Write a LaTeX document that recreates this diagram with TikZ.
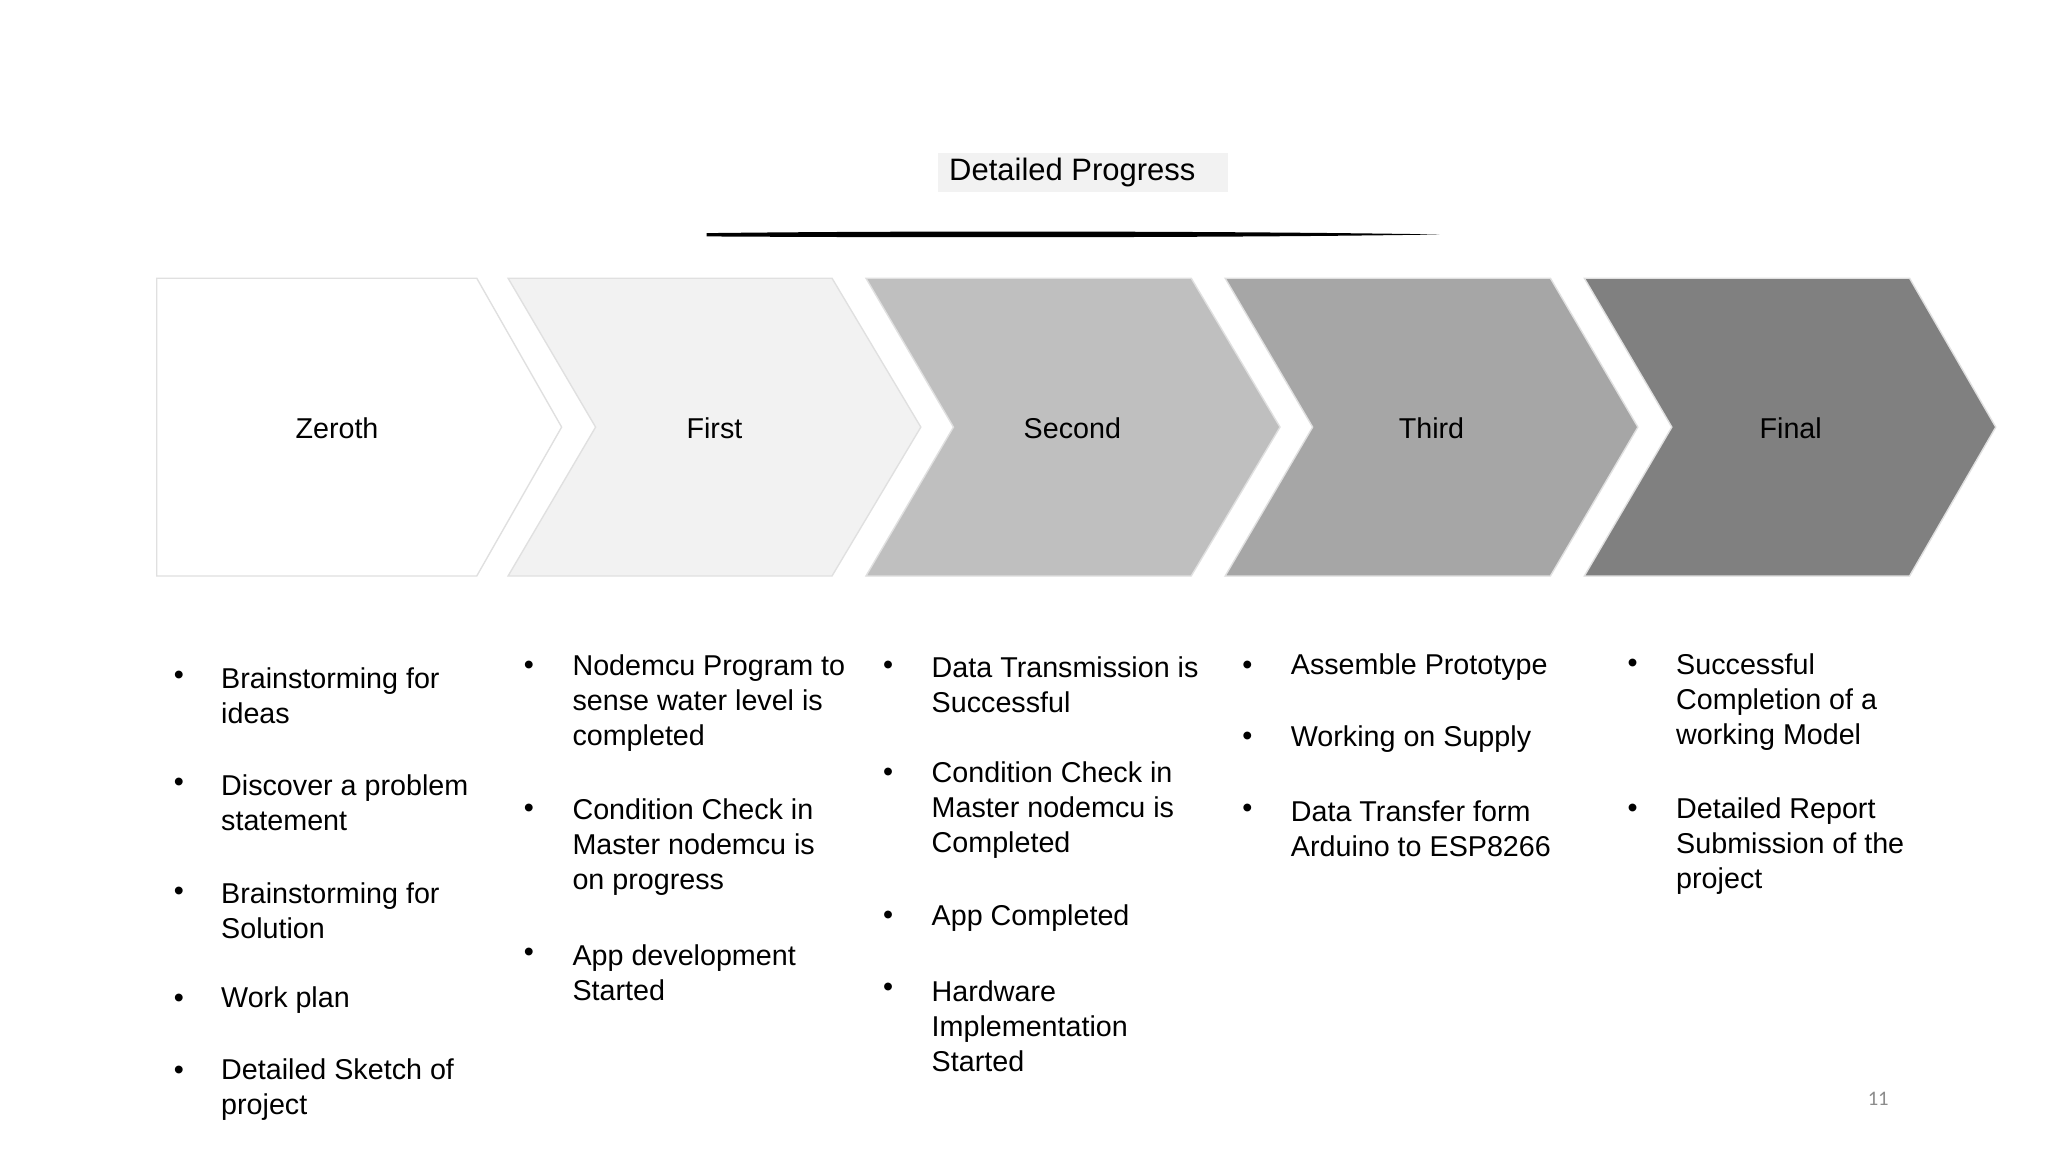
\documentclass[tikz,border=0pt]{standalone}
\usepackage{fontspec}
\setmainfont{Liberation Sans}
\newfontfamily\pnum{Carlito}
\begin{document}
\begin{tikzpicture}[x=0.02cm,y=-0.02cm,
  chev/.style={draw=black!12,line width=0.6pt},
  lab/.style={font=\fontsize{12.5pt}{15pt}\selectfont},
  item/.style={anchor=west,align=left,inner sep=0pt,font=\fontsize{12.5pt}{15.3pt}\selectfont},
  bul/.style={inner sep=0pt,font=\fontsize{12.5pt}{15pt}\selectfont}]
\useasboundingbox (0,0) rectangle (1568,882);
\fill[white] (0,0) rectangle (1568,882);
% title
\fill[black!5] (718,117) rectangle (940,147);
\node[lab,font=\fontsize{13.5pt}{16pt}\selectfont] (title) at (821,132) {Detailed Progress};
\fill[black] (541,178.5) .. controls (700,176.5) and (950,177) .. (1102,179.5) .. controls (950,182) and (700,182) .. (541,181) -- cycle;
% chevrons
\filldraw[chev,fill=white] (120,213) -- (365,213) -- (430,327) -- (365,441) -- (120,441) -- cycle;
\filldraw[chev,fill=black!5] (389,213) -- (637,213) -- (705,327) -- (637,441) -- (389,441) -- (456,327) -- cycle;
\filldraw[chev,fill=black!25] (663,213) -- (912,213) -- (980,327) -- (912,441) -- (663,441) -- (730,327) -- cycle;
\filldraw[chev,fill=black!35] (938,213) -- (1187,213) -- (1254,327) -- (1187,441) -- (938,441) -- (1005,327) -- cycle;
\filldraw[chev,fill=black!50] (1213,213) -- (1462,213) -- (1528,327) -- (1462,441) -- (1213,441) -- (1280,327) -- cycle;
\node[lab] (c0) at (258,328) {Zeroth};
\node[lab] (c1) at (547,328) {First};
\node[lab] (c2) at (821,328) {Second};
\node[lab] (c3) at (1096,328) {Third};
\node[lab] (c4) at (1371,328) {Final};
% column 1
\node[bul] (b01) at (137,519) {•}; \node[item] (t01) at (169,532.5) {Brainstorming for\\ideas};
\node[bul] (b02) at (137,601) {•}; \node[item] (t02) at (169,614.5) {Discover a problem\\statement};
\node[bul] (b03) at (137,684) {•}; \node[item] (t03) at (169,697.5) {Brainstorming for\\Solution};
\node[bul] (b04) at (137,766) {•}; \node[item] (t04) at (169,766) {Work plan};
\node[bul] (b05) at (137,821) {•}; \node[item] (t05) at (169,834.5) {Detailed Sketch of\\project};
% column 2
\node[bul] (b11) at (405,511) {•}; \node[item] (t11) at (438,538.5) {Nodemcu Program to\\sense water level is\\completed};
\node[bul] (b12) at (405,621) {•}; \node[item] (t12) at (438,648.5) {Condition Check in\\Master nodemcu is\\on progress};
\node[bul] (b13) at (405,731) {•}; \node[item] (t13) at (438,744.5) {App development\\Started};
% column 3
\node[bul] (b21) at (680,511) {•}; \node[item] (t21) at (713,524.5) {Data Transmission is\\Successful};
\node[bul] (b22) at (680,593) {•}; \node[item] (t22) at (713,620.5) {Condition Check in\\Master nodemcu is\\Completed};
\node[bul] (b23) at (680,703) {•}; \node[item] (t23) at (713,703) {App Completed};
\node[bul] (b24) at (680,758) {•}; \node[item] (t24) at (713,785.5) {Hardware\\Implementation\\Started};
% column 4
\node[bul] (b31) at (955,511) {•}; \node[item] (t31) at (988,511) {Assemble Prototype};
\node[bul] (b32) at (955,566) {•}; \node[item] (t32) at (988,566) {Working on Supply};
\node[bul] (b33) at (955,621) {•}; \node[item] (t33) at (988,634.5) {Data Transfer form\\Arduino to ESP8266};
% column 5
\node[bul] (b41) at (1250,510) {•}; \node[item] (t41) at (1283,537.5) {Successful\\Completion of a\\working Model};
\node[bul] (b42) at (1250,621) {•}; \node[item] (t42) at (1283,648) {Detailed Report\\Submission of the\\project};
% page number
\node[text=black!45,font=\pnum\fontsize{9pt}{10pt}\selectfont] (pg) at (1438,841) {11};
\end{tikzpicture}
\end{document}
